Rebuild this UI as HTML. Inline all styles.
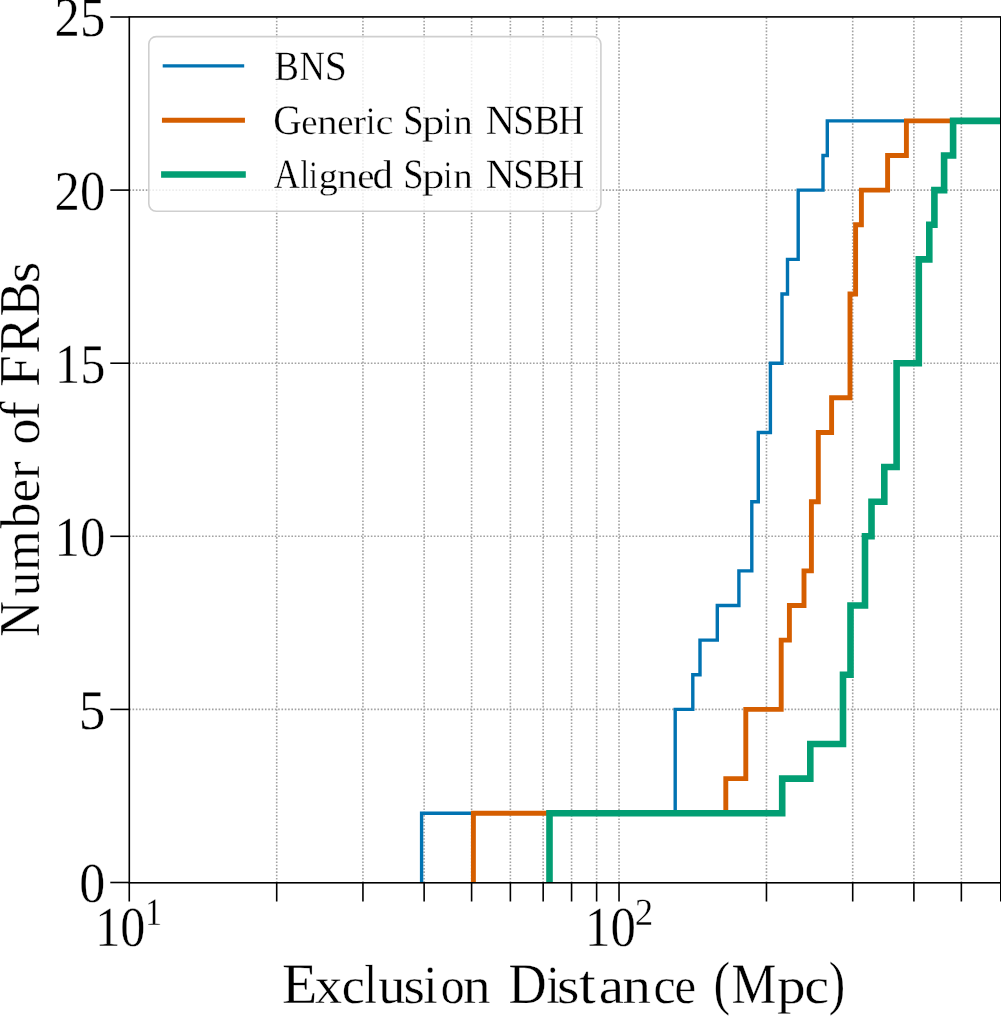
<!DOCTYPE html>
<html><head><meta charset="utf-8"><style>
html,body{margin:0;padding:0;background:#fff;overflow:hidden;}
svg{display:block;}
text{text-rendering:geometricPrecision;font-family:"Liberation Serif", serif;fill:#000;stroke:#fff;stroke-width:0.35px;}
</style></head><body>
<svg width="1001" height="1016" viewBox="0 0 1001 1016" style="will-change:transform">
<rect x="0" y="0" width="1001" height="1016" fill="#fff"/>
<g stroke="#a2a2a2" stroke-width="1.6" stroke-dasharray="1.6 1.71" stroke-dashoffset="0.08" fill="none">
<line x1="276.70" y1="882.8" x2="276.70" y2="16.9"/>
<line x1="362.94" y1="882.8" x2="362.94" y2="16.9"/>
<line x1="424.13" y1="882.8" x2="424.13" y2="16.9"/>
<line x1="471.60" y1="882.8" x2="471.60" y2="16.9"/>
<line x1="510.38" y1="882.8" x2="510.38" y2="16.9"/>
<line x1="543.17" y1="882.8" x2="543.17" y2="16.9"/>
<line x1="571.57" y1="882.8" x2="571.57" y2="16.9"/>
<line x1="596.62" y1="882.8" x2="596.62" y2="16.9"/>
<line x1="619.03" y1="882.8" x2="619.03" y2="16.9"/>
<line x1="766.46" y1="882.8" x2="766.46" y2="16.9"/>
<line x1="852.70" y1="882.8" x2="852.70" y2="16.9"/>
<line x1="913.89" y1="882.8" x2="913.89" y2="16.9"/>
<line x1="961.36" y1="882.8" x2="961.36" y2="16.9"/>
<line x1="129.3" y1="709.40" x2="1000.8" y2="709.40"/>
<line x1="129.3" y1="536.30" x2="1000.8" y2="536.30"/>
<line x1="129.3" y1="363.20" x2="1000.8" y2="363.20"/>
<line x1="129.3" y1="190.10" x2="1000.8" y2="190.10"/>
</g>
<g fill="none" stroke-linejoin="miter" stroke-linecap="butt">
<path d="M421.60,882.50 L421.60,882.50 L421.60,813.26 L675.20,813.26 L675.20,709.40 L692.80,709.40 L692.80,674.78 L700.00,674.78 L700.00,640.16 L717.30,640.16 L717.30,605.54 L738.90,605.54 L738.90,570.92 L751.80,570.92 L751.80,501.68 L758.30,501.68 L758.30,432.44 L770.40,432.44 L770.40,363.20 L782.00,363.20 L782.00,293.96 L787.50,293.96 L787.50,259.34 L798.20,259.34 L798.20,190.10 L823.00,190.10 L823.00,155.48 L827.30,155.48 L827.30,120.86 L1000.50,120.86" stroke="#0173b2" stroke-width="3.4"/>
<path d="M473.40,882.50 L473.40,882.50 L473.40,813.26 L725.80,813.26 L725.80,778.64 L745.80,778.64 L745.80,709.40 L781.20,709.40 L781.20,640.16 L789.40,640.16 L789.40,605.54 L804.00,605.54 L804.00,570.92 L811.40,570.92 L811.40,501.68 L818.30,501.68 L818.30,432.44 L831.60,432.44 L831.60,397.82 L850.00,397.82 L850.00,293.96 L855.60,293.96 L855.60,224.72 L861.40,224.72 L861.40,190.10 L887.60,190.10 L887.60,155.48 L906.40,155.48 L906.40,120.86 L1000.50,120.86" stroke="#d55e00" stroke-width="4.9"/>
<path d="M549.50,882.50 L549.50,882.50 L549.50,813.26 L782.20,813.26 L782.20,778.64 L810.30,778.64 L810.30,744.02 L843.00,744.02 L843.00,674.78 L850.50,674.78 L850.50,605.54 L865.00,605.54 L865.00,536.30 L871.50,536.30 L871.50,501.68 L884.30,501.68 L884.30,467.06 L896.60,467.06 L896.60,363.20 L918.80,363.20 L918.80,259.34 L929.30,259.34 L929.30,224.72 L934.40,224.72 L934.40,190.10 L944.10,190.10 L944.10,155.48 L953.10,155.48 L953.10,120.86 L1000.50,120.86" stroke="#029e73" stroke-width="6.6"/>
</g>
<rect x="129.3" y="16.9" width="871.50" height="865.90" fill="none" stroke="#000" stroke-width="1.6"/>
<g stroke="#000" stroke-width="1.6">
<line x1="129.27" y1="882.8" x2="129.27" y2="901.5"/>
<line x1="276.70" y1="882.8" x2="276.70" y2="901.5"/>
<line x1="362.94" y1="882.8" x2="362.94" y2="901.5"/>
<line x1="424.13" y1="882.8" x2="424.13" y2="901.5"/>
<line x1="471.60" y1="882.8" x2="471.60" y2="901.5"/>
<line x1="510.38" y1="882.8" x2="510.38" y2="901.5"/>
<line x1="543.17" y1="882.8" x2="543.17" y2="901.5"/>
<line x1="571.57" y1="882.8" x2="571.57" y2="901.5"/>
<line x1="596.62" y1="882.8" x2="596.62" y2="901.5"/>
<line x1="619.03" y1="882.8" x2="619.03" y2="901.5"/>
<line x1="766.46" y1="882.8" x2="766.46" y2="901.5"/>
<line x1="852.70" y1="882.8" x2="852.70" y2="901.5"/>
<line x1="913.89" y1="882.8" x2="913.89" y2="901.5"/>
<line x1="961.36" y1="882.8" x2="961.36" y2="901.5"/>
<line x1="1000.80" y1="882.8" x2="1000.80" y2="901.5"/>
<line x1="110.30000000000001" y1="882.50" x2="129.3" y2="882.50"/>
<line x1="110.30000000000001" y1="709.40" x2="129.3" y2="709.40"/>
<line x1="110.30000000000001" y1="536.30" x2="129.3" y2="536.30"/>
<line x1="110.30000000000001" y1="363.20" x2="129.3" y2="363.20"/>
<line x1="110.30000000000001" y1="190.10" x2="129.3" y2="190.10"/>
<line x1="110.30000000000001" y1="17.00" x2="129.3" y2="17.00"/>
</g>
<text transform="matrix(0.9262 0 0 1 79.31 901.90)" font-size="56.30">0</text>
<text transform="matrix(0.9458 0 0 1 78.81 728.80)" font-size="56.30">5</text>
<text transform="matrix(0.9024 0 0 1 54.53 555.70)" font-size="56.30">10</text>
<text transform="matrix(0.8922 0 0 1 55.08 382.60)" font-size="56.30">15</text>
<text transform="matrix(0.9007 0 0 1 54.62 209.50)" font-size="56.30">20</text>
<text transform="matrix(0.9007 0 0 1 54.62 36.40)" font-size="56.30">25</text>
<text transform="matrix(0.8912 0 0 1 95.23 945.50)" font-size="56.30">10</text>
<text transform="matrix(0.8905 0 0 1 145.11 925.20)" font-size="38.50">1</text>
<text transform="matrix(0.9024 0 0 1 585.03 945.50)" font-size="56.30">10</text>
<text transform="matrix(0.9610 0 0 1 634.84 925.20)" font-size="38.50">2</text>
<text transform="translate(0 1002.60)" y="0"><tspan x="282.03" font-size="57.40" textLength="35.35" lengthAdjust="spacingAndGlyphs">E</tspan><tspan x="314.72" font-size="51.00" textLength="27.35" lengthAdjust="spacingAndGlyphs">x</tspan><tspan x="341.72" font-size="51.00" textLength="23.08" lengthAdjust="spacingAndGlyphs">c</tspan><tspan x="364.52" font-size="55.20" textLength="12.27" lengthAdjust="spacingAndGlyphs">l</tspan><tspan x="378.18" font-size="51.00" textLength="27.14" lengthAdjust="spacingAndGlyphs">u</tspan><tspan x="403.64" font-size="51.00" textLength="21.45" lengthAdjust="spacingAndGlyphs">s</tspan><tspan x="423.44" font-size="54.00" textLength="14.02" lengthAdjust="spacingAndGlyphs">i</tspan><tspan x="440.68" font-size="51.00" textLength="23.83" lengthAdjust="spacingAndGlyphs">o</tspan><tspan x="462.93" font-size="51.00" textLength="27.60" lengthAdjust="spacingAndGlyphs">n</tspan><tspan> </tspan><tspan x="508.38" font-size="57.40" textLength="38.14" lengthAdjust="spacingAndGlyphs">D</tspan><tspan x="546.41" font-size="54.00" textLength="13.09" lengthAdjust="spacingAndGlyphs">i</tspan><tspan x="557.13" font-size="51.00" textLength="22.45" lengthAdjust="spacingAndGlyphs">s</tspan><tspan x="579.11" font-size="56.00" textLength="16.74" lengthAdjust="spacingAndGlyphs">t</tspan><tspan x="598.70" font-size="51.00" textLength="25.28" lengthAdjust="spacingAndGlyphs">a</tspan><tspan x="622.59" font-size="51.00" textLength="28.47" lengthAdjust="spacingAndGlyphs">n</tspan><tspan x="653.50" font-size="51.00" textLength="22.13" lengthAdjust="spacingAndGlyphs">c</tspan><tspan x="674.50" font-size="51.00" textLength="21.59" lengthAdjust="spacingAndGlyphs">e</tspan><tspan> </tspan><tspan x="713.51" font-size="60.00" textLength="16.60" lengthAdjust="spacingAndGlyphs">(</tspan><tspan x="731.55" font-size="57.40" textLength="44.83" lengthAdjust="spacingAndGlyphs">M</tspan><tspan x="776.98" font-size="51.00" textLength="28.66" lengthAdjust="spacingAndGlyphs">p</tspan><tspan x="804.27" font-size="51.00" textLength="24.86" lengthAdjust="spacingAndGlyphs">c</tspan><tspan x="828.81" font-size="60.00" textLength="16.47" lengthAdjust="spacingAndGlyphs">)</tspan></text>
<text transform="matrix(0 -1 1 0 39.40 0)" y="0"><tspan x="-636.83" font-size="58.00" textLength="35.76" lengthAdjust="spacingAndGlyphs">N</tspan><tspan x="-596.24" font-size="52.00" textLength="24.38" lengthAdjust="spacingAndGlyphs">u</tspan><tspan x="-570.79" font-size="52.00" textLength="40.30" lengthAdjust="spacingAndGlyphs">m</tspan><tspan x="-528.50" font-size="56.20" textLength="25.98" lengthAdjust="spacingAndGlyphs">b</tspan><tspan x="-502.58" font-size="52.00" textLength="23.62" lengthAdjust="spacingAndGlyphs">e</tspan><tspan x="-478.97" font-size="52.00" textLength="17.73" lengthAdjust="spacingAndGlyphs">r</tspan><tspan> </tspan><tspan x="-444.69" font-size="52.00" textLength="26.19" lengthAdjust="spacingAndGlyphs">o</tspan><tspan x="-419.81" font-size="56.20" textLength="18.51" lengthAdjust="spacingAndGlyphs">f</tspan><tspan> </tspan><tspan x="-387.05" font-size="58.00" textLength="31.93" lengthAdjust="spacingAndGlyphs">F</tspan><tspan x="-353.66" font-size="58.00" textLength="36.14" lengthAdjust="spacingAndGlyphs">R</tspan><tspan x="-316.50" font-size="58.00" textLength="34.74" lengthAdjust="spacingAndGlyphs">B</tspan><tspan x="-283.37" font-size="52.00" textLength="21.58" lengthAdjust="spacingAndGlyphs">s</tspan></text>
<rect x="148.8" y="36.6" width="452.1" height="174.7" rx="7.5" ry="7.5" fill="#fff" fill-opacity="0.8" stroke="#cfcfcf" stroke-width="1.6"/>
<g stroke-linecap="square">
<line x1="164.4" y1="65.9" x2="242.5" y2="65.9" stroke="#0173b2" stroke-width="3.4"/>
<line x1="164.4" y1="120.2" x2="242.5" y2="120.2" stroke="#d55e00" stroke-width="4.9"/>
<line x1="164.4" y1="174.5" x2="242.5" y2="174.5" stroke="#029e73" stroke-width="6.6"/>
</g>
<text transform="translate(0 80.00)" y="0"><tspan x="274.13" font-size="41.80" textLength="24.67" lengthAdjust="spacingAndGlyphs">B</tspan><tspan x="299.49" font-size="41.80" textLength="25.31" lengthAdjust="spacingAndGlyphs">N</tspan><tspan x="324.84" font-size="41.80" textLength="22.13" lengthAdjust="spacingAndGlyphs">S</tspan></text>
<text transform="translate(0 134.40)" y="0"><tspan x="273.18" font-size="41.80" textLength="28.45" lengthAdjust="spacingAndGlyphs">G</tspan><tspan x="301.36" font-size="35.80" textLength="16.31" lengthAdjust="spacingAndGlyphs">e</tspan><tspan x="317.05" font-size="35.80" textLength="20.67" lengthAdjust="spacingAndGlyphs">n</tspan><tspan x="337.26" font-size="35.80" textLength="16.31" lengthAdjust="spacingAndGlyphs">e</tspan><tspan x="353.11" font-size="35.80" textLength="13.14" lengthAdjust="spacingAndGlyphs">r</tspan><tspan x="365.99" font-size="39.00" textLength="9.35" lengthAdjust="spacingAndGlyphs">i</tspan><tspan x="375.56" font-size="35.80" textLength="17.99" lengthAdjust="spacingAndGlyphs">c</tspan><tspan> </tspan><tspan x="403.36" font-size="41.80" textLength="20.31" lengthAdjust="spacingAndGlyphs">S</tspan><tspan x="422.08" font-size="35.80" textLength="22.37" lengthAdjust="spacingAndGlyphs">p</tspan><tspan x="444.01" font-size="39.00" textLength="7.83" lengthAdjust="spacingAndGlyphs">i</tspan><tspan x="453.21" font-size="35.80" textLength="19.48" lengthAdjust="spacingAndGlyphs">n</tspan><tspan> </tspan><tspan x="485.74" font-size="41.80" textLength="29.08" lengthAdjust="spacingAndGlyphs">N</tspan><tspan x="513.28" font-size="41.80" textLength="20.96" lengthAdjust="spacingAndGlyphs">S</tspan><tspan x="533.69" font-size="41.80" textLength="25.80" lengthAdjust="spacingAndGlyphs">B</tspan><tspan x="558.48" font-size="41.80" textLength="25.56" lengthAdjust="spacingAndGlyphs">H</tspan></text>
<text transform="translate(0 188.40)" y="0"><tspan x="273.65" font-size="41.80" textLength="26.22" lengthAdjust="spacingAndGlyphs">A</tspan><tspan x="300.59" font-size="40.30" textLength="8.41" lengthAdjust="spacingAndGlyphs">l</tspan><tspan x="309.36" font-size="39.00" textLength="8.41" lengthAdjust="spacingAndGlyphs">i</tspan><tspan x="318.76" font-size="35.80" textLength="19.06" lengthAdjust="spacingAndGlyphs">g</tspan><tspan x="336.95" font-size="35.80" textLength="20.78" lengthAdjust="spacingAndGlyphs">n</tspan><tspan x="357.18" font-size="35.80" textLength="17.27" lengthAdjust="spacingAndGlyphs">e</tspan><tspan x="372.43" font-size="40.30" textLength="20.37" lengthAdjust="spacingAndGlyphs">d</tspan><tspan> </tspan><tspan x="403.36" font-size="41.80" textLength="20.31" lengthAdjust="spacingAndGlyphs">S</tspan><tspan x="422.08" font-size="35.80" textLength="22.37" lengthAdjust="spacingAndGlyphs">p</tspan><tspan x="444.01" font-size="39.00" textLength="7.83" lengthAdjust="spacingAndGlyphs">i</tspan><tspan x="453.21" font-size="35.80" textLength="19.48" lengthAdjust="spacingAndGlyphs">n</tspan><tspan> </tspan><tspan x="485.74" font-size="41.80" textLength="29.08" lengthAdjust="spacingAndGlyphs">N</tspan><tspan x="513.28" font-size="41.80" textLength="20.96" lengthAdjust="spacingAndGlyphs">S</tspan><tspan x="533.69" font-size="41.80" textLength="25.80" lengthAdjust="spacingAndGlyphs">B</tspan><tspan x="558.48" font-size="41.80" textLength="25.56" lengthAdjust="spacingAndGlyphs">H</tspan></text>
</svg>
</body></html>
